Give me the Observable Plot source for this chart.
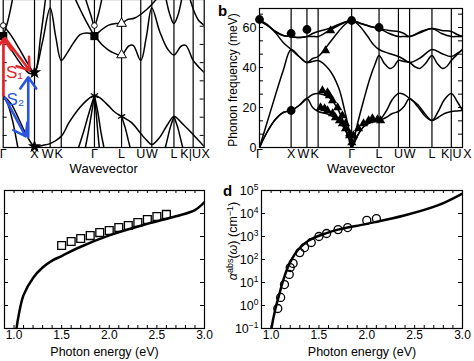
<!DOCTYPE html>
<html><head><meta charset="utf-8">
<script src="https://cdn.jsdelivr.net/npm/d3@7"></script>
<script src="https://cdn.jsdelivr.net/npm/@observablehq/plot@0.6"></script>
<style>
body{margin:0;background:#fff;}
#fig{position:relative;width:474px;height:361px;overflow:hidden;background:#fff;}
</style></head><body><div id="fig"></div>
<script>
// ---------- shared path (high-symmetry points) ----------
const kPoints = [0, 1, 1.5, 1.854, 2.914, 3.780, 4.393, 4.746, 5.453, 6.066, 6.419];
const kLabels = ["Γ","X","W","K","Γ","L","U","W","L","K|U","X"];

// ---------- panel a: electronic bands (k, E) ----------
const aVal1 = [[0,0.19],[0.25,-0.25],[0.5,-1.1],[0.75,-2.0],[1,-2.61],[1.25,-2.55],[1.5,-2.45],[1.854,-2.05],[2.1,-1.3],[2.37,-0.63],[2.65,-0.1],[2.914,0.19],[3.1,0.05],[3.35,-0.35],[3.55,-0.7],[3.78,-0.96],[4.1,-1.3],[4.393,-1.9],[4.6,-2.3],[4.746,-2.5],[5.0,-2.1],[5.25,-1.4],[5.453,-0.96],[5.75,-1.4],[6.066,-1.95],[6.25,-2.3],[6.419,-2.61]];
const aVal2 = [[0,0.19],[0.15,-0.3],[0.3,-1.2],[0.45,-2.5],[0.6,-3.9]];
const aVal3 = [[2.914,0.19],[2.75,-0.7],[2.55,-1.9],[2.4,-2.7],[2.25,-3.5]];
const aVal4 = [[2.914,0.19],[2.82,-0.8],[2.72,-1.8],[2.62,-2.7],[2.52,-3.6]];
const aVal5 = [[2.914,0.19],[2.97,-0.8],[3.02,-1.8],[3.07,-2.7],[3.12,-3.6]];
const aVal6 = [[2.914,0.19],[3.02,-0.7],[3.12,-1.8],[3.22,-2.7],[3.32,-3.6]];
const aVal7 = [[3.78,-0.96],[3.9,-1.6],[4.0,-2.3],[4.1,-3.0]];
const aVal8 = [[5.453,-0.96],[5.33,-1.6],[5.23,-2.3],[5.13,-3.0]];
const aVal9 = [[5.453,-0.96],[5.58,-1.6],[5.68,-2.3],[5.78,-3.0]];
const aCon1 = [[0,3.46],[0.3,2.6],[0.6,1.85],[0.85,1.4],[1,1.46],[1.25,3.1],[1.5,5.0],[1.68,3.4],[1.854,2.12],[2.05,2.55],[2.25,3.1],[2.47,3.55],[2.75,3.62],[2.914,3.46],[3.15,3.0],[3.45,2.6],[3.78,2.42],[4.0,2.9],[4.15,2.95],[4.393,2.12],[4.57,3.4],[4.746,5.0],[5.0,3.7],[5.25,2.75],[5.453,2.42],[5.68,2.9],[5.83,2.95],[6.066,2.12],[6.25,1.75],[6.419,1.46]];
const aCon2 = [[0,3.46],[0.15,4.3],[0.3,5.5]];
const aCon3 = [[0,4.04],[0.25,3.5],[0.5,2.8],[0.75,2.05],[1,1.46],[1.2,3.5],[1.35,5.5]];
const aCon4 = [[2.3,5.5],[2.55,4.6],[2.75,3.95],[2.914,3.46]];
const aCon5 = [[2.63,5.5],[2.8,4.6],[2.914,4.04],[3.03,4.6],[3.15,5.5]];
const aCon6 = [[2.914,3.46],[3.1,3.75],[3.35,4.05],[3.6,4.15],[3.78,4.15],[3.95,4.35],[4.2,4.45],[4.6,4.95],[4.9,5.5]];
const aCon7 = [[5.2,5.5],[5.33,4.6],[5.453,4.15],[5.58,4.6],[5.7,5.5]];
const aCon8 = [[5.95,5.6],[6.1,4.8],[6.25,4.3],[6.419,4.05]];
const aBands = [aVal1,aVal2,aVal3,aVal4,aVal5,aVal6,aVal7,aVal8,aVal9,aCon1,aCon2,aCon3,aCon4,aCon5,aCon6,aCon7,aCon8];
const aTicks = [-2,-1,0,1,2,3,4];
const aSquares = [[0,3.46],[2.914,3.46]];
const aCircles = [[0,4.04],[2.914,4.04]];
const aCrosses = [[2.914,0.19],[3.78,-0.96]];
const aStars = [[1,1.46],[1,-2.61]];
const aTriangles = [[3.78,2.42],[3.78,4.15]];
const s1Arrows = [{x1:0.01,y1:0.19,x2:0.01,y2:3.3},{x1:0.06,y1:3.35,x2:0.84,y2:1.58}];
const s2Arrows = [{x1:0.06,y1:0.05,x2:0.72,y2:-2.05},{x1:0.8,y1:-2.1,x2:0.8,y2:1.2}];
const sLabels = [{k:0.36,e:1.46,t:"S₁",c:"#e3262b"},{k:0.39,e:-0.03,t:"S₂",c:"#2b55e0"}];

// ---------- panel b: phonon branches (k, meV) ----------
const bTA1 = [[0,0],[0.25,8],[0.5,14],[0.75,17.5],[1,18.5],[1.25,21],[1.5,24.5],[1.68,20],[1.854,18],[2.2,16.5],[2.5,13.5],[2.7,9],[2.85,4],[2.914,0],[3.1,6],[3.3,10.5],[3.5,12.5],[3.78,13.5],[4.0,15],[4.2,17],[4.393,18],[4.57,20.5],[4.746,24.5],[5.0,20.5],[5.25,15.5],[5.453,13.5],[5.65,15],[5.85,17],[6.066,18],[6.25,18.3],[6.419,18.5]];
const bTA2 = [[0,0],[0.25,8],[0.5,14],[0.75,17.5],[1,18.5],[1.25,21],[1.5,24.5],[1.68,26.5],[1.854,27],[2.2,25],[2.45,20],[2.65,13],[2.8,6],[2.914,0],[3.1,6],[3.3,10.5],[3.5,12.5],[3.78,13.5],[4.0,18],[4.2,24],[4.393,27],[4.57,26.5],[4.746,24.5],[5.0,21.5],[5.25,16.5],[5.453,13.5],[5.65,18],[5.85,24],[6.066,27],[6.25,23],[6.419,18.5]];
const bLA = [[0,0],[0.25,13],[0.5,26],[0.75,38.5],[1,49],[1.25,45.5],[1.5,42.5],[1.68,43],[1.854,43.5],[2.2,39],[2.5,30],[2.7,18],[2.85,7],[2.914,0],[3.1,12],[3.3,24],[3.5,35],[3.65,41.5],[3.78,46],[3.95,42],[4.12,39.5],[4.25,40.5],[4.393,43.5],[4.57,43],[4.746,42.5],[4.9,40.5],[5.06,39.5],[5.25,42],[5.453,46],[5.62,42],[5.79,39.5],[5.92,40.5],[6.066,43.5],[6.25,46.5],[6.419,49]];
const bLO = [[0,63.5],[0.25,61.5],[0.5,57.5],[0.75,52.5],[1,49],[1.25,45.5],[1.5,42.5],[1.68,44.5],[1.854,45.5],[2.2,52],[2.5,58],[2.7,61.5],[2.914,63.5],[3.15,61],[3.4,56],[3.6,51.5],[3.78,49],[4.1,47],[4.393,45.5],[4.57,44],[4.746,42.5],[5.1,45],[5.453,49],[5.76,47],[6.066,45.5],[6.25,47],[6.419,49]];
const bTO1 = [[0,63.5],[0.25,61],[0.5,58],[0.75,56],[1,55.5],[1.25,55],[1.5,55.5],[1.68,55.5],[1.854,55.5],[2.2,58.5],[2.5,61],[2.914,63.5],[3.2,62],[3.5,60.5],[3.78,59.5],[4.1,57],[4.393,55.5],[4.57,55.5],[4.746,55.5],[5.1,57.5],[5.453,59.5],[5.76,57],[6.066,55.5],[6.25,55.5],[6.419,55.5]];
const bTO2 = [[0,63.5],[0.25,61],[0.5,58],[0.75,56],[1,55.5],[1.25,55],[1.5,55.5],[1.68,57],[1.854,58],[2.2,59.5],[2.5,61.5],[2.914,63.5],[3.2,62],[3.5,60.5],[3.78,59.5],[4.1,58.5],[4.393,58],[4.57,57],[4.746,55.5],[5.1,58],[5.453,59.5],[5.76,58.5],[6.066,58],[6.25,56.5],[6.419,55.5]];
const bBranches = [bTA1,bTA2,bLA,bLO,bTO1,bTO2];
const bCircles = [[0,64],[1,57],[1,18.5],[1.5,59],[2.914,63.5],[3.78,60]];
const bTriangles = [[2.09,48.5],[2.25,58.5],
  [1.99,28.5],[2.15,27.5],[2.21,26],[2.31,23.5],[2.47,20],[2.62,16],[2.72,12],[2.85,7],[2.92,2.5],
  [1.93,20],[2.06,19.5],[2.15,18.5],[2.31,17],[2.40,15],[2.53,13.5],[2.62,12],[2.72,9.5],[2.85,6],
  [2.97,6],[3.13,9.5],[3.29,12],[3.45,13.5],[3.57,14.5],[3.73,14],[3.83,13.5]];
const bYTicks = [0,20,40,60];
const bMinor = [6.67,13.33,20,26.67,33.33,40,46.67,53.33,60,66.67];

// ---------- panels c, d: absorption (eV, log10 alpha) ----------
const cCurveLog = [[1.015,-1.4],[1.026,-1.0],[1.05,-0.4],[1.1,0.45],[1.2,1.2],[1.3,1.65],[1.4,1.95],[1.5,2.15],[1.67,2.5],[2.0,3.05],[2.4,3.55],[2.7,3.88],[2.9,4.15],[3.0,4.5]];
const cSquaresLog = [[1.5,2.61],[1.6,2.78],[1.7,2.91],[1.8,3.04],[1.9,3.17],[2.0,3.26],[2.1,3.39],[2.2,3.48],[2.3,3.61],[2.4,3.74],[2.5,3.87],[2.6,3.96]];
const dCurveLog = [[0.99,-1.5],[1.004,-1.0],[1.046,-0.13],[1.088,0.52],[1.12,1.0],[1.17,1.61],[1.22,2.04],[1.276,2.39],[1.35,2.70],[1.45,2.95],[1.56,3.12],[1.7,3.3],[2.0,3.55],[2.39,3.91],[2.74,4.35],[3.0,4.87]];
const dCirclesLog = [[1.07,-0.13],[1.10,0.35],[1.14,0.91],[1.19,1.35],[1.20,1.65],[1.23,1.83],[1.30,2.30],[1.35,2.52],[1.42,2.74],[1.50,3.0],[1.58,3.13],[1.70,3.30],[1.80,3.39],[2.00,3.70],[2.10,3.78]];
const eLabels = [1.0,1.5,2.0,2.5,3.0];
const eMinor = [1.0,1.1,1.2,1.3,1.4,1.5,1.6,1.7,1.8,1.9,2.0,2.1,2.2,2.3,2.4,2.5,2.6,2.7,2.8,2.9];
const decades = [1,10,100,1000,10000];
const dYTicks = [0.1,1,10,100,1000,10000,100000];

// ---------- helpers ----------
const FONT = '"Liberation Sans", Arial, Helvetica, sans-serif';
const fig = document.getElementById("fig");
const labelOf = new Map(kPoints.map((k,i)=>[k,kLabels[i]]));
function place(svg, left, top){
  svg.style.position="absolute"; svg.style.left=left+"px"; svg.style.top=top+"px";
  svg.style.overflow="visible"; fig.appendChild(svg); return svg;
}
const baseStyle = {fontFamily: FONT, fontSize: "12px", background: "transparent", color: "black"};
const rows = (list) => list.flatMap((b,i)=>b.map(([x,y])=>({g:i,x,y})));
function kAxes(dxWK, dxKU, dxX){
  return [
    Plot.axisX([0,1,2.914,3.780,4.393,4.746,5.453], {tickFormat:d=>labelOf.get(d), tickSize:0, tickPadding:2, fontSize:12.5, label:null}),
    Plot.axisX([1.5,1.854], {tickFormat:d=>labelOf.get(d), tickSize:0, tickPadding:2, fontSize:12.5, dx:dxWK, label:null}),
    Plot.axisX([6.066], {tickFormat:d=>labelOf.get(d), tickSize:0, tickPadding:2, fontSize:12.5, dx:dxKU, label:null}),
    Plot.axisX([6.419], {tickFormat:d=>labelOf.get(d), tickSize:0, tickPadding:2, fontSize:12.5, dx:dxX, label:null})
  ];
}

// ---------- panel a ----------
const svgA = Plot.plot({
  width: 215, height: 185, marginLeft: 2.7, marginRight: 11.3, marginTop: 9, marginBottom: 28,
  x: {domain: [0, 6.419]}, y: {domain: [-2.665, 5.47], axis: null},
  style: baseStyle,
  marks: [
    Plot.ruleX(kPoints.slice(1,-1), {stroke:"black", strokeWidth:1.2}),
    Plot.tickY(aTicks, {y:d=>d, insetLeft:197, stroke:"black"}),
    Plot.tickY(aTicks, {y:d=>d, insetRight:197, stroke:"black"}),
    Plot.line(rows(aBands), {x:"x", y:"y", z:"g", curve:"catmull-rom", stroke:"black", strokeWidth:1.5, clip:true}),
    Plot.frame({stroke:"black", strokeWidth:1.2}),
    Plot.dot(aSquares, {x:d=>d[0], y:d=>d[1], symbol:"square", r:4.6, fill:"black"}),
    Plot.dot(aCircles, {x:d=>d[0], y:d=>d[1], r:2.8, fill:"white", stroke:"black", strokeWidth:1}),
    Plot.dot(aCrosses, {x:d=>d[0], y:d=>d[1], symbol:"asterisk", r:4, stroke:"black", strokeWidth:1.2}),
    Plot.dot(aStars, {x:d=>d[0], y:d=>d[1], symbol:"star", r:4.2, fill:"black"}),
    Plot.dot(aTriangles, {x:d=>d[0], y:d=>d[1], symbol:"triangle", r:3.6, fill:"white", stroke:"black", strokeWidth:1}),
    Plot.arrow(s1Arrows, {x1:"x1", y1:"y1", x2:"x2", y2:"y2", stroke:"#e3262b", strokeWidth:2.6, headLength:8, headAngle:70}),
    Plot.arrow(s2Arrows, {x1:"x1", y1:"y1", x2:"x2", y2:"y2", stroke:"#2b55e0", strokeWidth:2.6, headLength:8, headAngle:70}),
    Plot.text(sLabels, {x:"k", y:"e", text:"t", fill:"c", fontSize:17, textAnchor:"middle", lineAnchor:"middle"}),
    ...kAxes(-2.5, -2.5, 1.5),
    Plot.text(["Wavevector"], {text:d=>d, frameAnchor:"bottom", dy:21, fontSize:13, textAnchor:"middle", lineAnchor:"middle"})
  ]
});
place(svgA, 0, -10);

// ---------- panel b ----------
const svgB = Plot.plot({
  width: 259, height: 180, marginLeft: 44, marginRight: 12, marginTop: 8, marginBottom: 33,
  x: {domain: [0, 6.419]}, y: {domain: [0, 69.5]},
  style: baseStyle,
  marks: [
    Plot.ruleX(kPoints.slice(1,-1), {stroke:"black", strokeWidth:1.2}),
    Plot.tickY(bMinor, {y:d=>d, insetLeft:199, stroke:"black"}),
    Plot.tickY(bMinor, {y:d=>d, insetRight:199, stroke:"black"}),
    Plot.line(rows(bBranches), {x:"x", y:"y", z:"g", curve:"catmull-rom", stroke:"black", strokeWidth:1.5, clip:true}),
    Plot.frame({stroke:"black", strokeWidth:1.2}),
    Plot.dot(bCircles, {x:d=>d[0], y:d=>d[1], r:4.4, fill:"black"}),
    Plot.dot(bTriangles, {x:d=>d[0], y:d=>d[1], symbol:"triangle", r:3.4, fill:"black"}),
    Plot.axisY(bYTicks, {tickSize:0, tickPadding:3, fontSize:12.5, label:null}),
    ...kAxes(-3.5, 0, 5),
    Plot.text(["Wavevector"], {text:d=>d, frameAnchor:"bottom", dy:21, fontSize:13, textAnchor:"middle", lineAnchor:"middle"}),
    Plot.text(["Phonon frequency (meV)"], {text:d=>d, frameAnchor:"left", rotate:-90, dx:-26, dy:2, fontSize:12, textAnchor:"middle", lineAnchor:"middle"}),
    Plot.text(["b"], {text:d=>d, frameAnchor:"top-left", dx:-37, dy:3, fontSize:15, fontWeight:"bold", textAnchor:"middle", lineAnchor:"middle"})
  ]
});
place(svgB, 215, 0);

// ---------- panel c ----------
const svgC = Plot.plot({
  width: 215, height: 181, marginLeft: 4, marginRight: 11, marginTop: 10, marginBottom: 33,
  x: {domain: [0.9, 3.0]}, y: {type: "log", domain: [0.1, 1e5], axis: null},
  style: baseStyle,
  marks: [
    Plot.tickX(eMinor, {x:d=>d, insetTop:135, stroke:"black"}),
    Plot.tickX(eMinor, {x:d=>d, insetBottom:135, stroke:"black"}),
    Plot.tickY(decades, {y:d=>d, insetLeft:196, stroke:"black"}),
    Plot.tickY(decades, {y:d=>d, insetRight:196, stroke:"black"}),
    Plot.line(cCurveLog, {x:d=>d[0], y:d=>10**d[1], curve:"catmull-rom", stroke:"black", strokeWidth:2.5, clip:true}),
    Plot.dot(cSquaresLog, {x:d=>d[0], y:d=>10**d[1], symbol:"square", r:4.4, fill:"none", stroke:"black", strokeWidth:1.3}),
    Plot.frame({stroke:"black", strokeWidth:1.2}),
    Plot.axisX(eLabels, {tickFormat:d3.format(".1f"), tickSize:0, tickPadding:2, fontSize:12, label:null}),
    Plot.text(["Photon energy (eV)"], {text:d=>d, frameAnchor:"bottom", dy:23, fontSize:12.5, textAnchor:"middle", lineAnchor:"middle"})
  ]
});
place(svgC, 0, 180);

// ---------- panel d ----------
const svgD = Plot.plot({
  width: 259, height: 181, marginLeft: 46, marginRight: 12, marginTop: 10, marginBottom: 33,
  x: {domain: [0.9, 3.0]}, y: {type: "log", domain: [0.1, 1e5]},
  style: baseStyle,
  marks: [
    Plot.tickX(eMinor, {x:d=>d, insetTop:135, stroke:"black"}),
    Plot.tickX(eMinor, {x:d=>d, insetBottom:135, stroke:"black"}),
    Plot.tickY(decades, {y:d=>d, insetLeft:197, stroke:"black"}),
    Plot.tickY(decades, {y:d=>d, insetRight:197, stroke:"black"}),
    Plot.line(dCurveLog, {x:d=>d[0], y:d=>10**d[1], curve:"catmull-rom", stroke:"black", strokeWidth:2.5, clip:true}),
    Plot.dot(dCirclesLog, {x:d=>d[0], y:d=>10**d[1], r:4, fill:"none", stroke:"black", strokeWidth:1.3}),
    Plot.frame({stroke:"black", strokeWidth:1.2}),
    Plot.axisX(eLabels, {tickFormat:d3.format(".1f"), tickSize:0, tickPadding:2, fontSize:12, label:null}),
    Plot.axisY(dYTicks, {tickFormat:d=>"10^"+Math.round(Math.log10(d)), tickSize:0, tickPadding:3, fontSize:12.5, label:null}),
    Plot.text(["Photon energy (eV)"], {text:d=>d, frameAnchor:"bottom", dy:23, fontSize:12.5, textAnchor:"middle", lineAnchor:"middle"}),
    Plot.text(["d"], {text:d=>d, frameAnchor:"top-left", dx:-34, dy:1, fontSize:15, fontWeight:"bold", textAnchor:"middle", lineAnchor:"middle"})
  ]
});
place(svgD, 215, 180);

// superscript exponents on the log-axis labels
d3.select(svgD).selectAll('g[aria-label="y-axis tick label"] text').each(function(){
  const s = this.textContent; if (s.indexOf("^") < 0) return;
  const [b, e] = s.split("^");
  const t = d3.select(this); t.text(null);
  t.append("tspan").text(b);
  t.append("tspan").attr("font-size", 8.5).attr("dy", -5).text(e.replace("-", "−"));
});
// y title of panel d with super/italic parts
const tt = d3.select(svgD).append("text")
  .attr("transform", "translate(22,61) rotate(-90)")
  .attr("text-anchor", "middle").attr("font-size", 12.5).attr("fill", "black").attr("font-family", FONT);
tt.append("tspan").attr("font-style", "italic").text("α");
tt.append("tspan").attr("font-size", 9).attr("dy", -4.5).text("abs");
tt.append("tspan").attr("dy", 4.5).text("(");
tt.append("tspan").attr("font-style", "italic").text("ω");
tt.append("tspan").text(") (cm");
tt.append("tspan").attr("font-size", 9).attr("dy", -4.5).text("−1");
tt.append("tspan").attr("dy", 4.5).text(")");
</script></body></html>
